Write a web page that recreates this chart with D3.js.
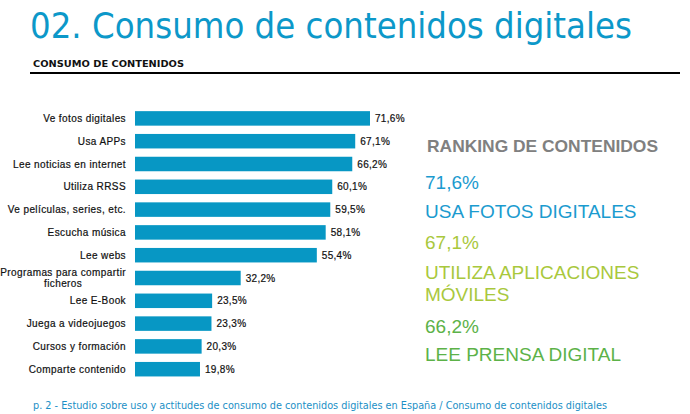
<!DOCTYPE html>
<html lang="es">
<head>
    <meta charset="UTF-8">
    <title>Consumo de contenidos digitales</title>
    <script src="https://d3js.org/d3.v7.min.js"></script>
    <style>
        body { margin: 0; background: #fff; }
    </style>
</head>
<body>
    <svg width="690" height="414"></svg>
    <script type="text/javascript">
        // Data
        var categories = [
            "Ve fotos digitales",
            "Usa APPs",
            "Lee noticias en internet",
            "Utiliza RRSS",
            "Ve películas, series, etc.",
            "Escucha música",
            "Lee webs",
            "Programas para compartir|ficheros",
            "Lee E-Book",
            "Juega a videojuegos",
            "Cursos y formación",
            "Comparte contenido"
        ];
        var values = [71.6, 67.1, 66.2, 60.1, 59.5, 58.1, 55.4, 32.2, 23.5, 23.3, 20.3, 19.8];

        var rankingTitle = "RANKING DE CONTENIDOS";
        var rankingLines = [
            {text: "71,6%", color: "#1b9bcf"},
            {text: "USA FOTOS DIGITALES", color: "#1b9bcf"},
            {text: "67,1%", color: "#a9c83c"},
            {text: "UTILIZA APLICACIONES", color: "#a9c83c"},
            {text: "MÓVILES", color: "#a9c83c"},
            {text: "66,2%", color: "#5cb248"},
            {text: "LEE PRENSA DIGITAL", color: "#5cb248"}
        ];

        var fmt = function(v) { return d3.format(".1f")(v).replace(".", ",") + "%"; };

        var svg = d3.select("svg");

        // Header
        svg.append("text")
           .attr("x", 30)
           .attr("y", 38)
           .attr("font-family", "DejaVu Sans")
           .attr("font-size", 35)
           .attr("textLength", 602)
           .attr("lengthAdjust", "spacingAndGlyphs")
           .attr("fill", "#0c98c9")
           .text("02. Consumo de contenidos digitales");

        svg.append("text")
           .attr("x", 33)
           .attr("y", 67)
           .attr("font-family", "DejaVu Sans")
           .attr("font-weight", "bold")
           .attr("font-size", 9)
           .attr("textLength", 151)
           .attr("lengthAdjust", "spacingAndGlyphs")
           .attr("fill", "#111")
           .text("CONSUMO DE CONTENIDOS");

        svg.append("line")
           .attr("x1", 30).attr("x2", 680)
           .attr("y1", 73).attr("y2", 73)
           .attr("stroke", "#000")
           .attr("stroke-width", 2);

        // Scales
        var x = d3.scaleLinear()
                  .domain([0, 100])
                  .range([135, 135 + 328.2]);

        var y = d3.scaleBand()
                  .domain(categories)
                  .range([107, 107 + 12 * 22.8])
                  .paddingInner(0.364)
                  .paddingOuter(0.182);

        var chart = svg.append("g");

        chart.selectAll(".bar")
             .data(values)
             .enter().append("rect")
             .attr("class", "bar")
             .attr("x", x(0))
             .attr("y", function(d, i) { return y(categories[i]); })
             .attr("width", function(d) { return x(d) - x(0); })
             .attr("height", y.bandwidth())
             .attr("fill", "#0797c4");

        chart.selectAll(".val")
             .data(values)
             .enter().append("text")
             .attr("class", "val")
             .attr("x", function(d) { return x(d) + 5; })
             .attr("y", function(d, i) { return y(categories[i]) + y.bandwidth() / 2; })
             .attr("dy", "0.35em")
             .attr("font-family", "Liberation Sans, Arial")
             .attr("font-size", 10)
             .attr("letter-spacing", 0.3)
             .attr("fill", "#111")
             .attr("stroke", "#111")
             .attr("stroke-width", 0.2)
             .text(fmt);

        // Category labels (right aligned, multi-line centred as a block)
        categories.forEach(function(c, i) {
            var lines = c.split("|");
            var cy = y(c) + y.bandwidth() / 2;
            var lh = 10.5;
            var g = chart.append("g");
            var texts = lines.map(function(l, j) {
                return g.append("text")
                        .attr("y", cy + (j - (lines.length - 1) / 2) * lh)
                        .attr("dy", "0.35em")
                        .attr("font-family", "Liberation Sans, Arial")
                        .attr("font-size", 10)
                        .attr("letter-spacing", 0.4)
                        .attr("fill", "#111")
                        .attr("stroke", "#111")
                        .attr("stroke-width", 0.2)
                        .text(l);
            });
            var widths = texts.map(function(t) { return t.node().getComputedTextLength(); });
            var maxW = d3.max(widths);
            texts.forEach(function(t) {
                t.attr("x", 126 - maxW / 2).attr("text-anchor", "middle");
            });
        });

        // Ranking panel
        svg.append("text")
           .attr("x", 427)
           .attr("y", 152)
           .attr("font-family", "Liberation Sans, Arial")
           .attr("font-weight", "bold")
           .attr("font-size", 17)
           .attr("textLength", 231)
           .attr("lengthAdjust", "spacingAndGlyphs")
           .attr("fill", "#808080")
           .text(rankingTitle);

        var rankY = [188.5, 217.5, 248.5, 278.5, 300.5, 332.5, 361];
        svg.selectAll(".rank")
           .data(rankingLines)
           .enter().append("text")
           .attr("class", "rank")
           .attr("x", 425)
           .attr("y", function(d, i) { return rankY[i]; })
           .attr("font-family", "Liberation Sans, Arial")
           .attr("font-size", 19)
           .attr("fill", function(d) { return d.color; })
           .text(function(d) { return d.text; });

        // Footer
        svg.append("text")
           .attr("x", 33)
           .attr("y", 409)
           .attr("font-family", "DejaVu Sans")
           .attr("font-size", 10)
           .attr("textLength", 574)
           .attr("lengthAdjust", "spacingAndGlyphs")
           .attr("fill", "#1b8fc6")
           .text("p. 2 - Estudio sobre uso y actitudes de consumo de contenidos digitales en España / Consumo de contenidos digitales");
    </script>
</body>
</html>
